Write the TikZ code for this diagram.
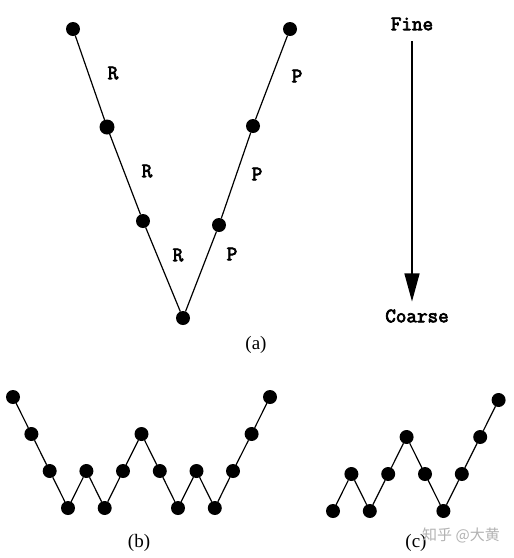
\documentclass[tikz,border=0pt]{standalone}
\usepackage{fontspec}
\setmainfont{Liberation Serif}
\newfontfamily\monobold{Latin Modern Mono}[FakeBold=3.5]
\newfontfamily\cjk{Noto Sans CJK SC}
\usetikzlibrary{arrows.meta}

\begin{document}
\begin{tikzpicture}[
    x=1pt,
    y=-1pt,
    line width=1.2pt,
    every node/.style={inner sep=0, outer sep=0},
    dot/.style={circle, fill=black, minimum size=14pt},
    steplabel/.style={font=\fontsize{20.5}{20.5}\monobold},
    caption/.style={font=\fontsize{19}{19}\selectfont}
    ]

    \useasboundingbox (0,0) rectangle (514,558);

    % (a) the V
    \node [dot] (a1) at (73,29) {};
    \node [dot, minimum size=15pt] (a2) at (107,127) {};
    \node [dot] (a3) at (143,221) {};
    \node [dot] (a4) at (183,318) {};
    \node [dot] (a5) at (219,225) {};
    \node [dot] (a6) at (253,126) {};
    \node [dot] (a7) at (290,29) {};

    \path (a1) edge (a2);
    \path (a2) edge (a3);
    \path (a3) edge (a4);
    \path (a4) edge (a5);
    \path (a5) edge (a6);
    \path (a6) edge (a7);

    \node [steplabel] (r1) at (113,73) {R};
    \node [steplabel] (r2) at (147,171) {R};
    \node [steplabel] (r3) at (178,255) {R};
    \node [steplabel] (p1) at (297,76) {P};
    \node [steplabel] (p2) at (257,174) {P};
    \node [steplabel] (p3) at (232,254) {P};

    \node [steplabel] (fine) at (412,24) {Fine};
    \node [steplabel] (coarse) at (417,316) {Coarse};
    \draw [-{Triangle[width=15pt,length=28pt]}, shorten <=11pt, shorten >=8pt]
      (fine.south) -- (fine.south |- coarse.north);

    \node [caption] (capa) at (256,345) {(a)};

    % (b) the W
    \node [dot] (b1) at (13,397) {};
    \node [dot] (b2) at (31.4,434) {};
    \node [dot] (b3) at (49.7,471) {};
    \node [dot] (b4) at (68,508) {};
    \node [dot] (b5) at (86.4,471) {};
    \node [dot] (b6) at (104.7,508) {};
    \node [dot] (b7) at (123,471) {};
    \node [dot] (b8) at (141.5,434) {};
    \node [dot] (b9) at (159.8,471) {};
    \node [dot] (b10) at (178,508) {};
    \node [dot] (b11) at (196.5,471) {};
    \node [dot] (b12) at (214.8,508) {};
    \node [dot] (b13) at (233,471) {};
    \node [dot] (b14) at (251.6,434) {};
    \node [dot] (b15) at (270,397) {};

    \draw (b1) -- (b2) -- (b3) -- (b4) -- (b5) -- (b6) -- (b7) -- (b8)
      -- (b9) -- (b10) -- (b11) -- (b12) -- (b13) -- (b14) -- (b15);

    \node [caption] (capb) at (139,543) {(b)};

    % (c) the zigzag
    \node [dot] (c1) at (333,511) {};
    \node [dot] (c2) at (351.4,474) {};
    \node [dot] (c3) at (369.8,511) {};
    \node [dot] (c4) at (388.2,474) {};
    \node [dot] (c5) at (406.6,437) {};
    \node [dot] (c6) at (425,474) {};
    \node [dot] (c7) at (443.4,511) {};
    \node [dot] (c8) at (461.8,474) {};
    \node [dot] (c9) at (480.2,437) {};
    \node [dot] (c10) at (498.6,400) {};

    \draw (c1) -- (c2) -- (c3) -- (c4) -- (c5) -- (c6) -- (c7) -- (c8)
      -- (c9) -- (c10);

    \node [caption] (capc) at (416,543) {(c)};
    \node [font=\fontsize{15}{15}\cjk, text=black!30] (mark) at (461,535) {知乎 @大黄};

\end{tikzpicture}
\end{document}
